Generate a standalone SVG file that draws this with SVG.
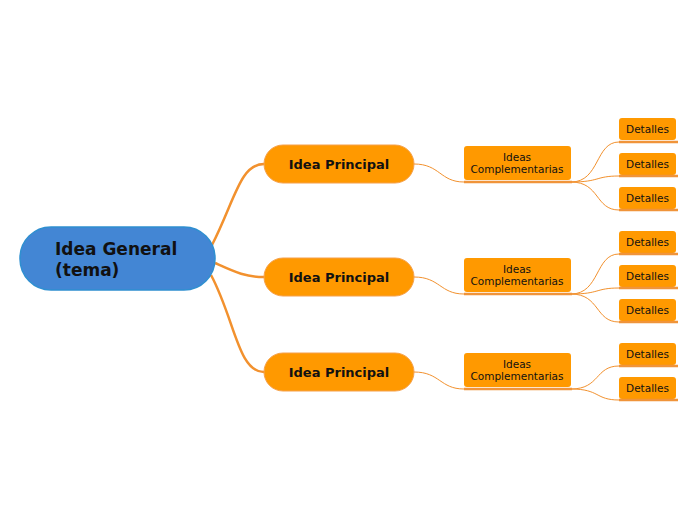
<svg xmlns="http://www.w3.org/2000/svg" width="696" height="520" viewBox="0 0 696 520">
<style>
text{font-family:"DejaVu Sans",Verdana,sans-serif;fill:#111}
.m{fill:#ff9900;stroke:#f5a04a;stroke-width:1}
.s{fill:#ff9900}
.u{stroke:#f0943a;stroke-width:2.5}
.c{fill:none;stroke:#f2912e;stroke-width:2.5}
.t{fill:none;stroke:#f2912e;stroke-width:1}
.mt{font-size:13px;font-weight:bold;text-anchor:middle}
.it{font-size:10.5px;text-anchor:middle}
.dt{font-size:10.5px;text-anchor:middle}
</style>
<g id="connectors">
<path class="c" d="M212,245 C235,200 240,164 264,164"/>
<path class="c" d="M215,263 C235,272 245,277 264,277"/>
<path class="c" d="M211,275 C235,320 238,372 264,372"/>
<path class="t" d="M414,164 C440,164 440,182 464,182"/>
<path class="t" d="M414,277 C440,277 440,294 464,294"/>
<path class="t" d="M414,372 C440,372 440,389 464,389"/>
<path class="t" d="M571,182 C600,182 595,142 619,142"/>
<path class="t" d="M571,182 C600,182 595,176 619,176"/>
<path class="t" d="M571,182 C600,182 595,210 619,210"/>
<path class="t" d="M571,294 C600,294 595,254 619,254"/>
<path class="t" d="M571,294 C600,294 595,288 619,288"/>
<path class="t" d="M571,294 C600,294 595,322 619,322"/>
<path class="t" d="M571,389 C600,389 595,366 619,366"/>
<path class="t" d="M571,389 C600,389 595,400 619,400"/>
</g>
<g id="central">
<rect x="20" y="227" width="195" height="63" rx="31" fill="#4386d4" stroke="#2f8fd0" stroke-width="1.5"/>
<text x="55" y="255" font-size="17" font-weight="bold">Idea General</text>
<text x="55" y="276" font-size="17" font-weight="bold">(tema)</text>
</g>
<g id="main1"><rect class="m" x="264" y="145" width="150" height="38" rx="19"/><text class="mt" x="339" y="169">Idea Principal</text></g>
<g id="main2"><rect class="m" x="264" y="258" width="150" height="38" rx="19"/><text class="mt" x="339" y="282">Idea Principal</text></g>
<g id="main3"><rect class="m" x="264" y="353" width="150" height="38" rx="19"/><text class="mt" x="339" y="377">Idea Principal</text></g>
<g id="ic1"><rect class="s" x="464" y="146" width="107" height="34" rx="3"/><line class="u" x1="464" y1="182" x2="572" y2="182"/><text class="it" x="517" y="161">Ideas</text><text class="it" x="517" y="173">Complementarias</text></g>
<g id="ic2"><rect class="s" x="464" y="258" width="107" height="34" rx="3"/><line class="u" x1="464" y1="294" x2="572" y2="294"/><text class="it" x="517" y="273">Ideas</text><text class="it" x="517" y="285">Complementarias</text></g>
<g id="ic3"><rect class="s" x="464" y="353" width="107" height="34" rx="3"/><line class="u" x1="464" y1="389" x2="572" y2="389"/><text class="it" x="517" y="368">Ideas</text><text class="it" x="517" y="380">Complementarias</text></g>
<g id="d1"><rect class="s" x="619" y="118" width="57" height="22" rx="3"/><line class="u" x1="619" y1="142" x2="678" y2="142"/><text class="dt" x="647.5" y="133">Detalles</text></g>
<g id="d2"><rect class="s" x="619" y="153" width="57" height="22" rx="3"/><line class="u" x1="619" y1="176" x2="678" y2="176"/><text class="dt" x="647.5" y="168">Detalles</text></g>
<g id="d3"><rect class="s" x="619" y="187" width="57" height="22" rx="3"/><line class="u" x1="619" y1="210" x2="678" y2="210"/><text class="dt" x="647.5" y="202">Detalles</text></g>
<g id="d4"><rect class="s" x="619" y="231" width="57" height="22" rx="3"/><line class="u" x1="619" y1="254" x2="678" y2="254"/><text class="dt" x="647.5" y="246">Detalles</text></g>
<g id="d5"><rect class="s" x="619" y="265" width="57" height="22" rx="3"/><line class="u" x1="619" y1="288" x2="678" y2="288"/><text class="dt" x="647.5" y="280">Detalles</text></g>
<g id="d6"><rect class="s" x="619" y="299" width="57" height="22" rx="3"/><line class="u" x1="619" y1="322" x2="678" y2="322"/><text class="dt" x="647.5" y="314">Detalles</text></g>
<g id="d7"><rect class="s" x="619" y="343" width="57" height="22" rx="3"/><line class="u" x1="619" y1="366" x2="678" y2="366"/><text class="dt" x="647.5" y="358">Detalles</text></g>
<g id="d8"><rect class="s" x="619" y="377" width="57" height="22" rx="3"/><line class="u" x1="619" y1="400" x2="678" y2="400"/><text class="dt" x="647.5" y="392">Detalles</text></g>
</svg>
